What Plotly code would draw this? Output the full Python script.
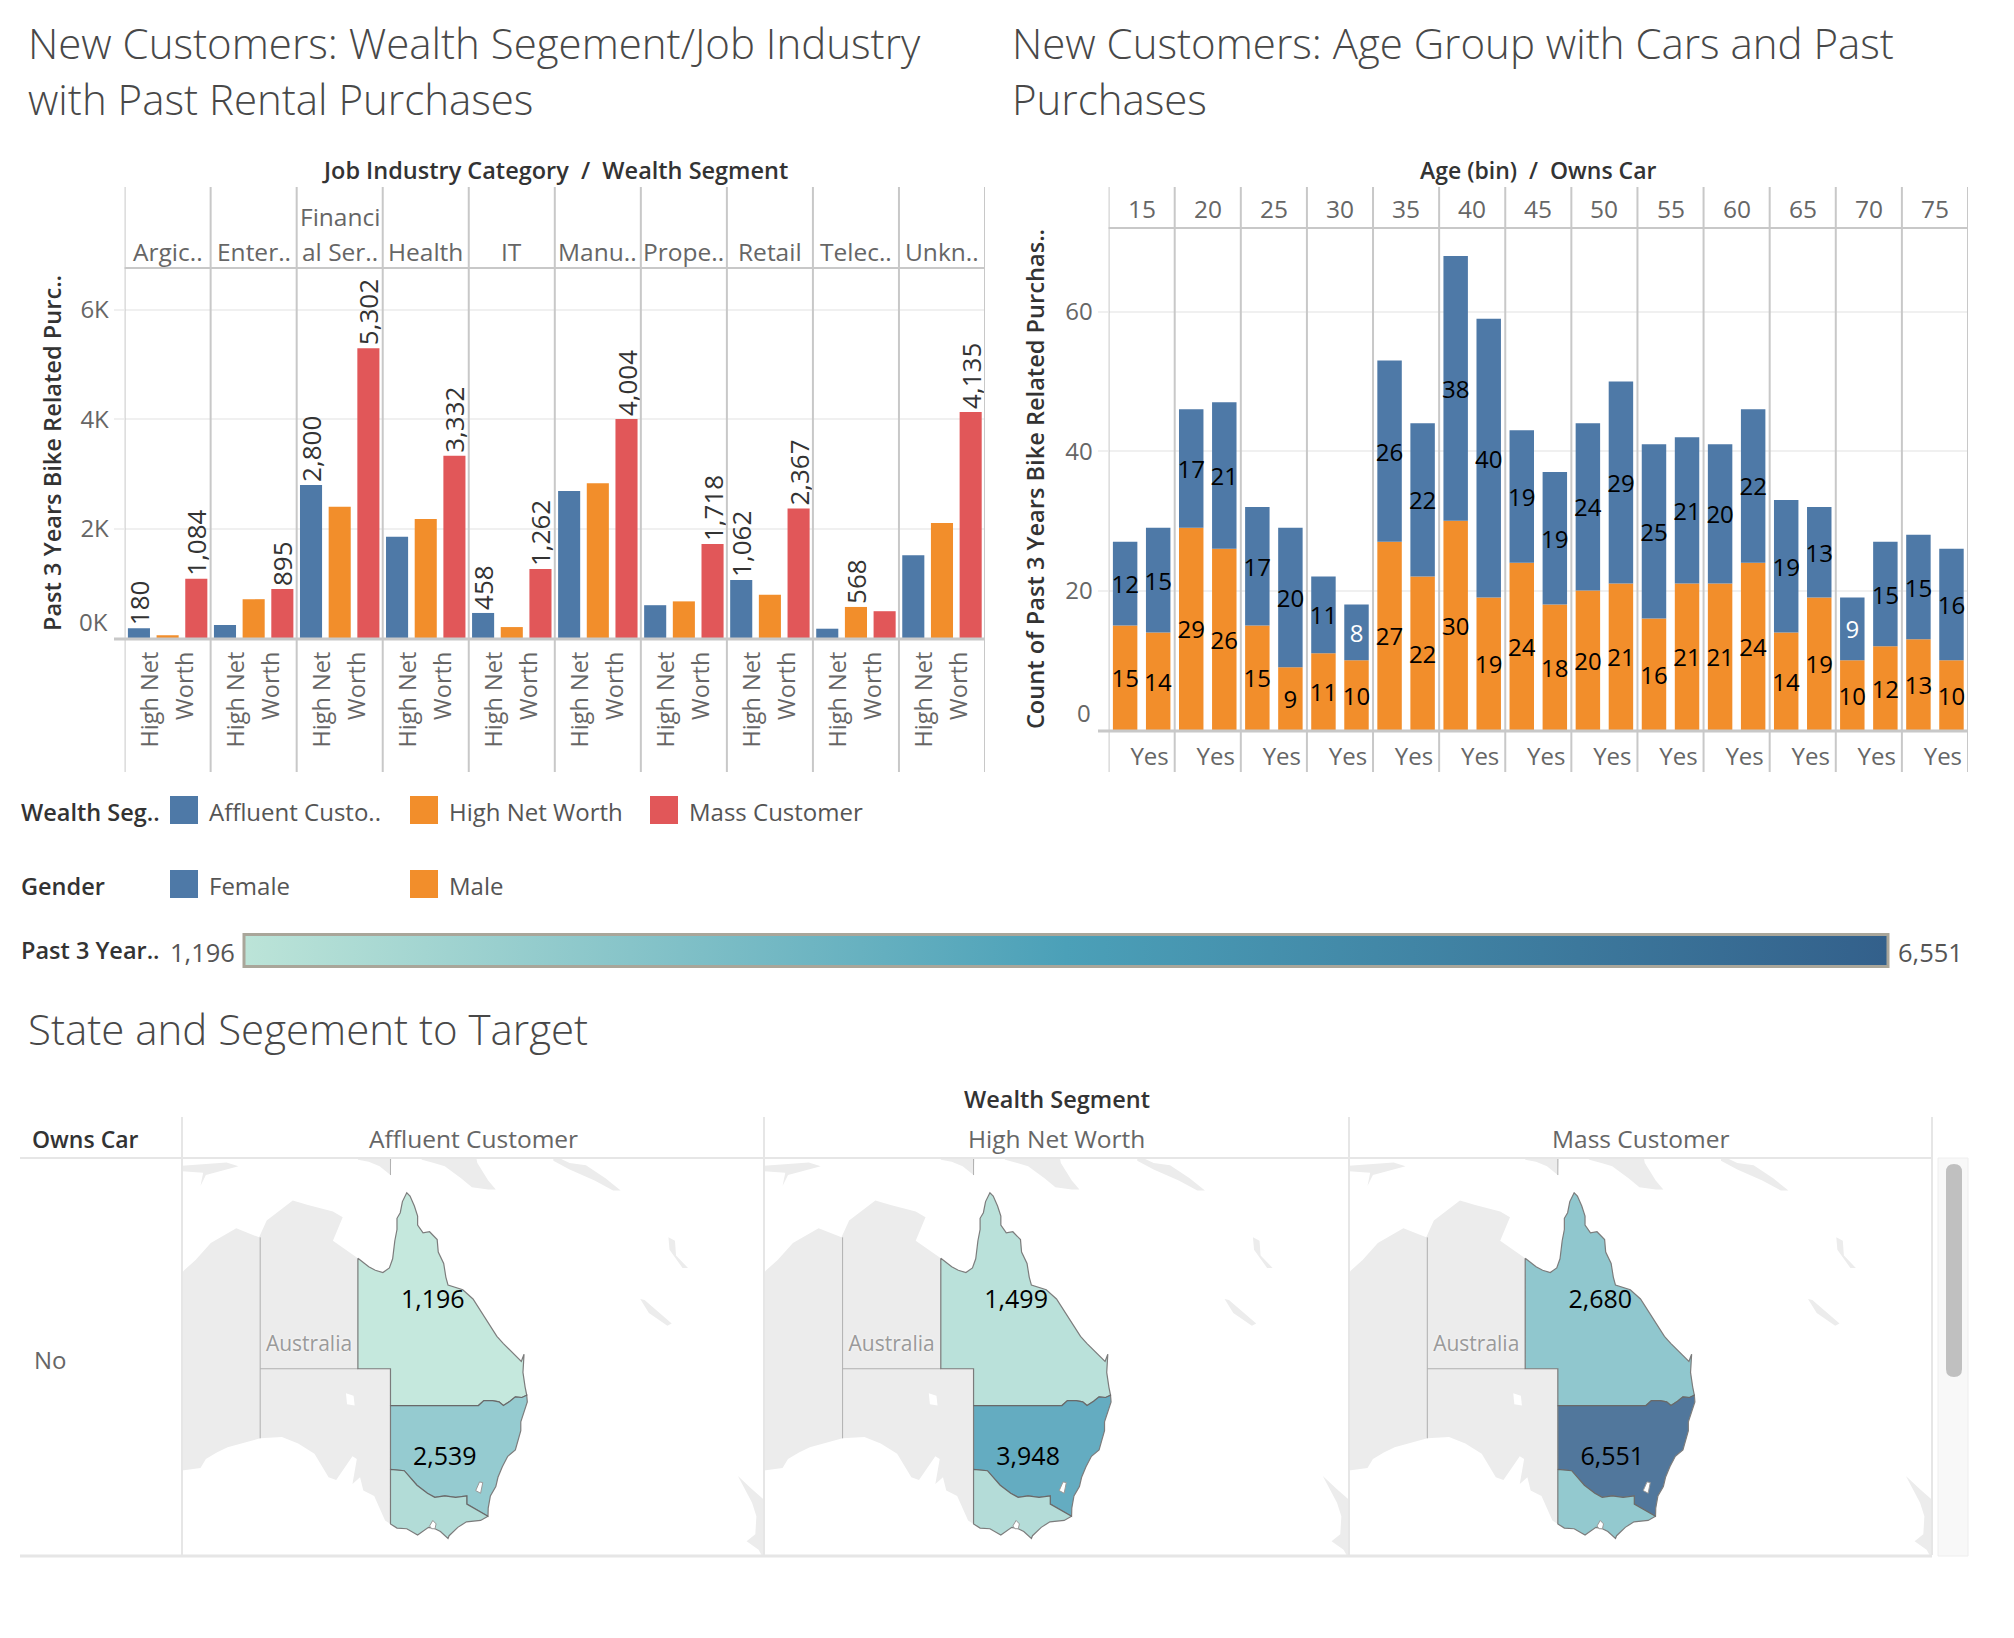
import math
import plotly.graph_objects as go
from plotly.colors import sample_colorscale

W, H = 2014, 1638
FONT = "Open Sans"

# --- job industry / wealth segment bars
industries = ["Argic..", "Enter..", "Financi<br>al Ser..", "Health", "IT", "Manu..", "Prope..", "Retail", "Telec..", "Unkn.."]
affluent = [180, 240, 2800, 1850, 458, 2690, 600, 1062, 170, 1515]
high_net = [50, 710, 2400, 2175, 200, 2830, 670, 790, 568, 2105]
mass = [1084, 895, 5302, 3332, 1262, 4004, 1718, 2367, 490, 4135]
affluent_labels = ["180", "", "2,800", "", "458", "", "", "1,062", "", ""]
high_net_labels = ["", "", "", "", "", "", "", "", "568", ""]
mass_labels = ["1,084", "895", "5,302", "3,332", "1,262", "4,004", "1,718", "2,367", "", "4,135"]

# --- age bin / owns car stacked bars, two bars (No, Yes) for every bin
age_bins = ["15", "20", "25", "30", "35", "40", "45", "50", "55", "60", "65", "70", "75"]
male = [15, 14, 29, 26, 15, 9, 11, 10, 27, 22, 30, 19, 24, 18, 20, 21, 16, 21, 21, 24, 14, 19, 10, 12, 13, 10]
female = [12, 15, 17, 21, 17, 20, 11, 8, 26, 22, 38, 40, 19, 19, 24, 29, 25, 21, 20, 22, 19, 13, 9, 15, 15, 16]

# --- state totals per wealth segment
segments = ["Affluent Customer", "High Net Worth", "Mass Customer"]
qld_values = [1196, 1499, 2680]
nsw_values = [2539, 3948, 6551]
vic_values = [1750, 1700, 2600]
value_min, value_max = 1196, 6551

BLUE, ORANGE, RED = "#4e79a7", "#f28e2b", "#e15759"
RAMP = [[0, "#bce4d8"], [0.5, "#4ba0b8"], [1, "#33608b"]]
GRID = "#f0f0f0"
RULE = "#c8c8c8"
PALE = "#e6e6e6"

# --- map outlines (lon, lat)
qld = [(138, -16.55), (139, -17.3), (139.6, -17.6), (140.3, -17.8), (140.9, -17.4), (141.2, -16.6), (141.4, -15.0),
       (141.6, -14.0), (141.6, -13.0), (141.9, -12.5), (142.1, -11.5), (142.5, -10.7), (142.8, -11.0), (143.2, -11.9),
       (143.5, -12.8), (143.5, -13.6), (144.0, -14.3), (144.6, -14.2), (145.3, -14.9), (145.4, -16.0), (145.9, -17.0),
       (146.1, -18.2), (146.3, -18.9), (147.66, -19.3), (148.6, -20.1), (149.3, -21.1), (150.2, -22.4), (150.8, -23.3),
       (151.4, -23.9), (152.2, -24.6), (153.05, -25.4), (153.3, -24.8), (153.2, -26.3), (153.4, -27.5), (153.55, -28.17),
       (153.1, -28.35), (152.5, -28.3), (152.0, -28.65), (151.4, -29.0), (151.0, -28.7),
       (150.4, -28.6), (149.6, -28.6), (149.1, -29), (141, -29), (141, -26), (138, -26), (138, -16.55)]
nsw = [(141, -29), (149.1, -29), (149.6, -28.6), (150.4, -28.6), (151.0, -28.7), (151.4, -29.0), (152.0, -28.65),
       (152.5, -28.3), (153.1, -28.35), (153.55, -28.17), (153.6, -28.7), (153.3, -29.5), (153.0, -30.3), (153.0, -31.0),
       (152.7, -31.8), (152.5, -32.5), (151.8, -33.0), (151.3, -33.8), (150.9, -34.6), (150.7, -35.3), (150.2, -36.0),
       (150.0, -36.9), (149.98, -37.5), (148.03, -36.6), (148.03, -36.0), (147.0, -36.1), (146.0, -36.0), (145.08, -36.1),
       (144.4, -35.8), (143.44, -35.2), (142.27, -34.1), (141, -34), (141, -29)]
vic = [(141, -34), (142.27, -34.1), (143.44, -35.2), (144.4, -35.8), (145.08, -36.1), (146.0, -36.0), (147.0, -36.1),
       (148.03, -36.0), (148.03, -36.6), (149.98, -37.5), (149.3, -37.8), (148.0, -37.9), (147.2, -38.3), (146.4, -38.9),
       (146.3, -39.1), (145.6, -38.6), (145.1, -38.4), (144.5, -38.3), (143.5, -38.85), (142.5, -38.4), (141.6, -38.35),
       (141, -38.05), (141, -34)]
act = [(148.85, -35.6), (149.2, -34.95), (149.5, -35.0), (149.3, -35.8), (148.85, -35.6)]
port_phillip = [(144.6, -38.2), (144.9, -37.8), (145.2, -38.05), (145.1, -38.4), (144.8, -38.4), (144.6, -38.2)]
lake_eyre = [(136.9, -28.0), (137.6, -28.2), (137.7, -29.0), (137.0, -28.9), (136.9, -28.0)]

west_aus = [(118, -20.3), (121, -18.8), (122, -17.6), (123.05, -16.7), (124.45, -15.2), (126.8, -13.9), (128.9, -14.7),
            (129.6, -13.2), (130.8, -12.3), (132, -11.4), (133.4, -11.8), (135.7, -12.4), (136.6, -12.9), (135.7, -15),
            (138, -16.55), (138, -26), (141, -26),
            (141, -38.05), (140.5, -37.8), (139.5, -36), (138.5, -35.6), (138.2, -34.6), (137.5, -35.1), (137.9, -33.2),
            (137.5, -33), (136, -34.8), (135.3, -34.6), (134, -32.8), (132.5, -32), (131, -31.5), (129, -31.6), (126, -32.3),
            (125, -32.7), (124, -33.2), (123.5, -33.9), (118, -34.5), (118, -20.3)]
papua = [(138, -7), (138, -7.7), (139, -7.9), (140, -8.3), (141, -9.1), (141.1, -7.3), (143.5, -7.3), (143.9, -7.7),
         (145, -8), (146, -8.3), (147.5, -9.4), (148.5, -10.2), (150, -10.4), (150.7, -10.4), (150, -9.6), (149, -8),
         (148.8, -7), (138, -7)]
timor = [(121, -8.3), (125.9, -7.95), (127, -8.3), (124, -9.1), (123.5, -10.1), (123.75, -8.9), (121, -8.7), (121, -8.3)]
new_caledonia = [(164, -20.1), (164.4, -20.2), (166.9, -22.2), (166.5, -22.4), (164.8, -21.3), (164, -20.1)]
vanuatu = [(166.6, -14.7), (167.2, -15), (167.3, -16.3), (168.4, -17.4), (167.9, -17.4), (166.7, -15.8), (166.6, -14.7)]
solomons = [(156, -7.3), (157.5, -8), (159, -8.2), (160.8, -9.4), (162.2, -10.5), (161.5, -10.5), (159.8, -9.6),
            (157.5, -8.6), (156, -7.8), (156, -7.3)]
new_zealand = [(173.0, -34.5), (174.3, -35.5), (176, -36.7), (176, -41), (175.2, -40.3), (174.9, -39.9), (173.8, -39.3),
               (174.6, -38.8), (174.7, -37.5), (174.3, -36.5), (173.0, -34.5)]
state_lines = [(129, -14.7), (129, -31.6), None, (129, -26), (138, -26), None, (141, -9.1), (141, -7)]


def merc(lat):
    return -math.degrees(math.log(math.tan(math.radians(45 - lat / 2))))


def xs(poly):
    return [p[0] if p else None for p in poly]


def ys(poly):
    return [merc(p[1]) if p else None for p in poly]


def join(*polys):
    out = []
    for p in polys:
        out += list(p) + [None]
    return out


# page pixels to paper fractions
def px(v):
    return v / W


def py(v):
    return 1 - v / H


fig = go.Figure()

# left bars
for seg, (vals, labels, color) in enumerate([(affluent, affluent_labels, BLUE), (high_net, high_net_labels, ORANGE), (mass, mass_labels, RED)]):
    fig.add_trace(go.Bar(x=[3 * k + seg for k in range(len(vals))], y=vals, text=labels, width=0.77,
                         marker=dict(color=color, line_width=0), textposition="outside", textangle=-90,
                         constraintext="none", cliponaxis=False, textfont=dict(family=FONT, size=26, color="#333333"),
                         xaxis="x", yaxis="y", showlegend=False))

# right stacked bars
bar_x = list(range(len(male)))
fig.add_trace(go.Bar(x=bar_x, y=male, text=male, width=0.74, marker=dict(color=ORANGE, line_width=0),
                     textposition="inside", insidetextanchor="middle", textangle=0, constraintext="none",
                     textfont=dict(family=FONT, size=24, color="black"), xaxis="x2", yaxis="y2", showlegend=False))
fig.add_trace(go.Bar(x=bar_x, y=female, base=male, text=female, width=0.74, marker=dict(color=BLUE, line_width=0),
                     textposition="inside", insidetextanchor="middle", textangle=0, constraintext="none",
                     textfont=dict(family=FONT, size=24, color=["white" if v in (8, 9) else "black" for v in female]),
                     xaxis="x2", yaxis="y2", showlegend=False))

# maps
for i, seg in enumerate(segments):
    ax_x, ax_y = f"x{i + 3}", f"y{i + 3}"
    land = join(west_aus, papua, timor, new_caledonia, vanuatu, solomons, new_zealand)
    fig.add_trace(go.Scatter(x=xs(land), y=ys(land), mode="lines", fill="toself", fillcolor="#ececec",
                             line=dict(width=0, color="#ececec"), hoverinfo="skip", xaxis=ax_x, yaxis=ax_y, showlegend=False))
    fig.add_trace(go.Scatter(x=xs(state_lines), y=ys(state_lines), mode="lines", line=dict(color="#b0b0b0", width=1),
                             hoverinfo="skip", xaxis=ax_x, yaxis=ax_y, showlegend=False))
    holes = join(lake_eyre)
    fig.add_trace(go.Scatter(x=xs(holes), y=ys(holes), mode="lines", fill="toself", fillcolor="white",
                             line=dict(width=0, color="white"), hoverinfo="skip", xaxis=ax_x, yaxis=ax_y, showlegend=False))
    for poly, val in [(qld, qld_values[i]), (nsw, nsw_values[i]), (vic, vic_values[i])]:
        color = sample_colorscale(RAMP, (val - value_min) / (value_max - value_min))[0]
        fig.add_trace(go.Scatter(x=xs(poly), y=ys(poly), mode="lines", fill="toself", fillcolor=color, opacity=0.85,
                                 line=dict(color="#666666", width=1.2), hoverinfo="skip", xaxis=ax_x, yaxis=ax_y, showlegend=False))
    holes = join(act, port_phillip)
    fig.add_trace(go.Scatter(x=xs(holes), y=ys(holes), mode="lines", fill="toself", fillcolor="white",
                             line=dict(width=1, color="#999999"), hoverinfo="skip", xaxis=ax_x, yaxis=ax_y, showlegend=False))
    fig.add_trace(go.Scatter(x=[133.5], y=[merc(-24.1)], mode="text", text=["Australia"],
                             textfont=dict(family=FONT, size=21, color="#9a9a9a", shadow="0 0 3px #ffffff"),
                             hoverinfo="skip", xaxis=ax_x, yaxis=ax_y, showlegend=False))
    fig.add_trace(go.Scatter(x=[144.9, 146.0], y=[merc(-20.3), merc(-33.2)], mode="markers+text",
                             text=[f"{qld_values[i]:,}", f"{nsw_values[i]:,}"],
                             marker=dict(color=[qld_values[i], nsw_values[i]], coloraxis="coloraxis", size=1, opacity=0),
                             textposition="middle center", textfont=dict(family=FONT, size=25, color="black"),
                             hoverinfo="skip", xaxis=ax_x, yaxis=ax_y, showlegend=False))

shapes = []
annotations = []


def line(x0, y0, x1, y1, color=RULE, width=2):
    shapes.append(dict(type="line", xref="paper", yref="paper", x0=px(x0), y0=py(y0), x1=px(x1), y1=py(y1),
                       line=dict(color=color, width=width)))


def label(x, y, text, size=24, color="#666666", anchor="left", weight=None, **kw):
    annotations.append(dict(xref="paper", yref="paper", x=px(x), y=py(y), text=text, showarrow=False, xanchor=anchor,
                            yanchor="middle", font=dict(family=FONT, size=size, color=color, weight=weight), **kw))


# titles
label(26, 42, "New Customers: Wealth Segement/Job Industry", size=42, color="#484848", weight=300)
label(26, 98, "with Past Rental Purchases", size=42, color="#484848", weight=300)
label(1010, 42, "New Customers: Age Group with Cars and Past", size=42, color="#484848", weight=300)
label(1010, 98, "Purchases", size=42, color="#484848", weight=300)
label(26, 1028, "State and Segement to Target", size=42, color="#484848", weight=300)

label(555, 170, "Job Industry Category  /  Wealth Segment", size=23.5, color="#333333", anchor="center", weight=600)
label(1538, 170, "Age (bin)  /  Owns Car", size=23, color="#333333", anchor="center", weight=600)
label(1057, 1099, "Wealth Segment", size=23.5, color="#333333", anchor="center", weight=600)
label(30, 1139, "Owns Car", size=23, color="#333333", weight=600)
label(32, 1359, "No", size=24)

# left panels frame and strip
for k in range(len(industries) + 1):
    shapes.append(dict(type="line", xref="x", yref="paper", x0=3 * k - 0.5, x1=3 * k - 0.5, y0=py(187), y1=py(772),
                       line=dict(color=RULE, width=2)))
for k, name in enumerate(industries):
    for j, part in enumerate(reversed(name.split("<br>"))):
        annotations.append(dict(xref="x", yref="paper", x=3 * k + 1, y=py(251 - 34 * j), text=part, showarrow=False,
                                xanchor="center", yanchor="middle", font=dict(family=FONT, size=24.5, color="#666666")))
line(124.6, 268, 985, 268)
line(114, 639, 985, 639, width=3)

# right panels frame and strip
for k in range(len(age_bins) + 1):
    shapes.append(dict(type="line", xref="x2", yref="paper", x0=2 * k - 0.5, x1=2 * k - 0.5, y0=py(187), y1=py(772),
                       line=dict(color=RULE, width=2)))
for k, name in enumerate(age_bins):
    annotations.append(dict(xref="x2", yref="paper", x=2 * k + 0.5, y=py(209), text=name, showarrow=False, xanchor="center",
                            yanchor="middle", font=dict(family=FONT, size=24.5, color="#666666")))
line(1108.6, 228, 1968, 228)
line(1098, 731, 1968, 731, width=3)

# zero labels sit above the baseline
annotations.append(dict(xref="paper", yref="y", x=px(110), y=0, yshift=17, text="0K", showarrow=False, xanchor="right",
                        font=dict(family=FONT, size=24, color="#666666")))
annotations.append(dict(xref="paper", yref="y2", x=px(1093), y=0, yshift=17, text="0", showarrow=False, xanchor="right",
                        font=dict(family=FONT, size=24, color="#666666")))

# legends
legend_x = [170, 410, 650]
label(19, 812, "Wealth Seg..", size=23.5, color="#333333", weight=600)
for x0, color, text in zip(legend_x, [BLUE, ORANGE, RED], ["Affluent Custo..", "High Net Worth", "Mass Customer"]):
    shapes.append(dict(type="rect", xref="paper", yref="paper", x0=px(x0), x1=px(x0 + 28), y0=py(796), y1=py(824),
                       fillcolor=color, line_width=0))
    label(x0 + 37, 811, text, size=24, color="#555555")
label(19, 886, "Gender", size=23.5, color="#333333", weight=600)
for x0, color, text in zip(legend_x, [BLUE, ORANGE], ["Female", "Male"]):
    shapes.append(dict(type="rect", xref="paper", yref="paper", x0=px(x0), x1=px(x0 + 28), y0=py(870), y1=py(898),
                       fillcolor=color, line_width=0))
    label(x0 + 37, 885, text, size=24, color="#555555")
label(19, 950, "Past 3 Year..", size=23.5, color="#333333", weight=600)
label(237, 952, f"{value_min:,}", size=25.5, anchor="right", color="#555555")
label(1896, 952, f"{value_max:,}", size=25.5, color="#555555")

# map frame
for x0 in [182, 764, 1349, 1932]:
    line(x0, 1117, x0, 1555, color=PALE)
line(20, 1158, 1932, 1158, color=PALE)
line(20, 1556, 1932, 1556, color=PALE, width=3)
for x0, x1, seg in zip([182, 764, 1349], [764, 1349, 1932], segments):
    label((x0 + x1) / 2, 1138, seg, anchor="center", size=24.5)

# scrollbar
shapes.append(dict(type="rect", xref="paper", yref="paper", x0=px(1938), x1=px(1968), y0=py(1158), y1=py(1556),
                   fillcolor="#f8f8f8", line=dict(color="#eeeeee", width=1)))
shapes.append(dict(type="path", xref="paper", yref="paper", fillcolor="#c0c0c0", line_width=0,
                   path=f"M {px(1946)} {py(1172)} Q {px(1946)} {py(1164)} {px(1954)} {py(1164)} "
                        f"Q {px(1962)} {py(1164)} {px(1962)} {py(1172)} L {px(1962)} {py(1369)} "
                        f"Q {px(1962)} {py(1377)} {px(1954)} {py(1377)} Q {px(1946)} {py(1377)} {px(1946)} {py(1369)} Z"))

tick_font = dict(family=FONT, size=24, color="#666666")
rot_tick_font = dict(family=FONT, size=23.5, color="#666666")
title_font = dict(family=FONT, size=23.6, color="#333333", weight=600)
map_lon = [121.8, 175.4]
map_y = [-44.06, -7.57]
map_axis = dict(showgrid=False, zeroline=False, showticklabels=False, ticks="", fixedrange=True)

fig.update_layout(
    width=W, height=H, margin=dict(l=0, r=0, t=0, b=0, autoexpand=False), paper_bgcolor="white", plot_bgcolor="white",
    barmode="overlay", showlegend=False, font=dict(family=FONT), shapes=shapes, annotations=annotations,
    xaxis=dict(domain=[px(124.6), px(985)], range=[-0.5, 29.5], showgrid=False, zeroline=False, ticks="",
               tickvals=[3 * k + o for k in range(len(industries)) for o in (0.4, 1.62)],
               ticktext=["High Net", "Worth"] * len(industries), tickangle=-90, tickfont=rot_tick_font, ticklabelstandoff=8),
    yaxis=dict(domain=[py(638), py(268)], range=[0, 6768], tickvals=[2000, 4000, 6000], ticktext=["2K", "4K", "6K"],
               gridcolor=GRID, gridwidth=2, zeroline=False, ticks="outside", ticklen=10, tickwidth=2, tickcolor=GRID,
               tickfont=tick_font, title=dict(text="Past 3 Years Bike Related Purc..", font=title_font, standoff=12)),
    xaxis2=dict(domain=[px(1108.6), px(1968)], range=[-0.5, 25.5], showgrid=False, zeroline=False, ticks="", anchor="y2",
                tickvals=[2 * k + 0.74 for k in range(len(age_bins))], ticktext=["Yes"] * len(age_bins), tickangle=0,
                tickfont=tick_font, ticklabelstandoff=10),
    yaxis2=dict(domain=[py(730), py(228)], range=[0, 72], tickvals=[20, 40, 60], gridcolor=GRID, gridwidth=2, zeroline=False,
                ticks="outside", ticklen=10, tickwidth=2, tickcolor=GRID, tickfont=tick_font, anchor="x2",
                title=dict(text="Count of Past 3 Years Bike Related Purchas..", font=title_font, standoff=14)),
    xaxis3=dict(domain=[px(182), px(764)], range=map_lon, anchor="y3", **map_axis),
    yaxis3=dict(domain=[py(1555), py(1158)], range=map_y, anchor="x3", **map_axis),
    xaxis4=dict(domain=[px(764), px(1349)], range=map_lon, anchor="y4", **map_axis),
    yaxis4=dict(domain=[py(1555), py(1158)], range=map_y, anchor="x4", **map_axis),
    xaxis5=dict(domain=[px(1349), px(1932)], range=map_lon, anchor="y5", **map_axis),
    yaxis5=dict(domain=[py(1555), py(1158)], range=map_y, anchor="x5", **map_axis),
    coloraxis=dict(colorscale=RAMP, cmin=value_min, cmax=value_max,
                   colorbar=dict(orientation="h", x=px(244), xanchor="left", y=py(952), yanchor="middle", lenmode="pixels",
                                 len=1644, thicknessmode="pixels", thickness=32, outlinecolor="#a9a69a", outlinewidth=3,
                                 showticklabels=False, ticks="", xpad=0, ypad=0, borderwidth=0)),
)
fig.update_xaxes(linewidth=0)
fig.update_yaxes(linewidth=0)

fig.write_html("out.html", config={"displayModeBar": False}, post_script="document.body.style.margin='0';")
